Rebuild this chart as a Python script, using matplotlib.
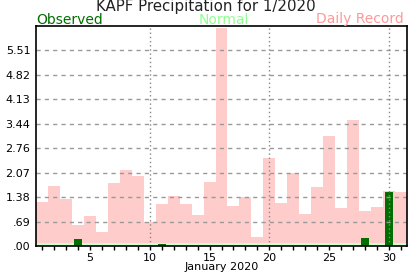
import matplotlib
matplotlib.use("Agg")
import matplotlib.pyplot as plt

days = list(range(1, 32))
record = [1.24, 1.69, 1.33, 0.59, 0.85, 0.40, 1.78, 2.15, 1.98, 0.69,
          1.19, 1.41, 1.19, 0.88, 1.81, 6.13, 1.13, 1.37, 0.25, 2.49,
          1.22, 2.07, 0.91, 1.67, 3.09, 1.07, 3.54, 0.99, 1.10, 1.56, 1.52]
normal = [0.09] * 31
obs_days = [4, 11, 28, 30]
obs_vals = [0.20, 0.06, 0.23, 1.52]
yticks = [0.0, 0.69, 1.38, 2.07, 2.76, 3.44, 4.13, 4.82, 5.51]
ytick_labels = [".00", ".69", "1.38", "2.07", "2.76", "3.44", "4.13", "4.82", "5.51"]
xticks = [5, 10, 15, 20, 25, 30]

fig = plt.figure(figsize=(4.17, 2.76), dpi=100)
ax = fig.add_axes([36/417, 1-246/276, (407-36)/417, (246-26)/276])

ax.bar(days, record, width=1.0, color="#ffcccc", zorder=1)
ax.bar(days, normal, width=1.0, color="#ccffcc", zorder=2)
ax.bar(obs_days, obs_vals, width=0.67, color="#006f00", zorder=3)

ax.set_xlim(0.5, 31.5)
ax.set_ylim(0, 6.2)
ax.set_yticks(yticks)
ax.set_yticklabels(ytick_labels)
ax.set_xticks(xticks)
ax.set_xticks(days, minor=True)
ax.tick_params(axis="y", length=0, labelsize=8, pad=4)
ax.tick_params(axis="x", which="both", direction="out", length=3, width=1, labelsize=8, pad=2)

for y in yticks[1:]:
    ax.axhline(y, color="#999999", linestyle=(0, (3, 3)), linewidth=1, zorder=4)
for x in [10, 20, 30]:
    ax.axvline(x, color="#888888", linestyle=(0, (1, 2)), linewidth=1, zorder=4)

for s in ax.spines.values():
    s.set_linewidth(1.2)
    s.set_zorder(5)

ax.set_xlabel("January 2020", fontsize=8, labelpad=-1)

fig.text(206/417, 1-6/276, "KAPF Precipitation for 1/2020", ha="center", va="center", fontsize=10.8, color="#222222")
fig.text(36/417, 1-19.5/276, "Observed", ha="left", va="center", fontsize=10, color="#006f00")
fig.text(224/417, 1-19.5/276, "Normal", ha="center", va="center", fontsize=10, color="#90ff90")
fig.text(404/417, 1-19.5/276, "Daily Record", ha="right", va="center", fontsize=10, color="#ff9999")

fig.savefig("out.png", dpi=100)
